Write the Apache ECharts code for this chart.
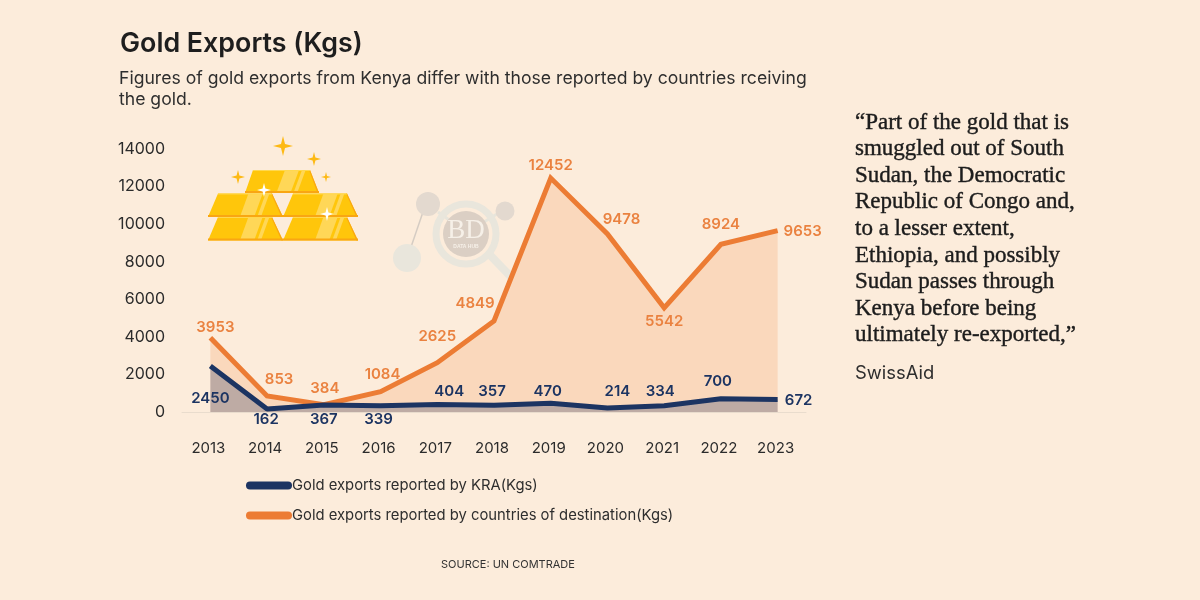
<!DOCTYPE html>
<html><head><meta charset="utf-8">
<style>html,body{margin:0;padding:0;background:#fcecdb}#c{width:1200px;height:600px}</style>
<script src="https://cdn.jsdelivr.net/npm/echarts@6/dist/echarts.min.js"></script>
</head><body><div id="c"></div>
<script>
const years = ['2013','2014','2015','2016','2017','2018','2019','2020','2021','2022','2023'];
const kraValues = [2450,162,367,339,404,357,470,214,334,700,672];
const destinationValues = [3953,853,384,1084,2625,4849,12452,9478,5542,8924,9653];
const kraName = 'Gold exports reported by KRA(Kgs)';
const destinationName = 'Gold exports reported by countries of destination(Kgs)';
const titleText = 'Gold Exports (Kgs)';
const subtitleLines = ['Figures of gold exports from Kenya differ with those reported by countries rceiving','the gold.'];
const quoteLines = ['“Part of the gold that is','smuggled out of South','Sudan, the Democratic','Republic of Congo and,','to a lesser extent,','Ethiopia, and possibly','Sudan passes through','Kenya before being','ultimately re-exported,”'];
const quoteSource = 'SwissAid';
const sourceText = 'SOURCE: UN COMTRADE';

const kraOffsets = [[0,33],[-1,11],[0,14.5],[-2,14],[12,-12.5],[-2,-13.5],[-3,-11.5],[10,-16.5],[-4,-14.5],[-3,-17.5],[21,1]];
const destOffsets = [[5,-10],[12,-16],[1,-16.5],[2,-17.5],[0,-26.5],[-19,-17.5],[0,-12.5],[14,-14.5],[0,13.5],[0,-19.5],[25,1]];

const NAVY='#1c3462', ORANGE='#ec7c34', ORANGE_TXT='#ea8240', INK='#2b2b2b';
const sans='Inter, "Noto Sans", sans-serif';
const PILL='path://M4 0H42A4 4 0 0 1 42 8H4A4 4 0 0 1 4 0Z';

function pts(data, offsets){
  return data.map((v,i)=>({value:v,label:{offset:offsets[i]}}));
}
function txt(x,y,text,font,fill,weight,size,extra){
  return {type:'text',x,y,z:5,style:Object.assign({text,font:`${weight} ${size}px ${font}`,fill,textAlign:'left',textVerticalAlign:'middle'},extra||{})};
}
function poly(points,fill,z){return {type:'polygon',z:z||1,shape:{points},style:{fill}};}
function bar(l,r,tl,tr,t,b){
  const w=r-l;
  const band=(a,c)=>poly([[l+w*a+5,t+.5],[l+w*c+5,t+.5],[l+w*c-3,b-1],[l+w*a-3,b-1]],'#ffd757',2);
  return [
    poly([[tl,t],[tr,t],[r,b],[l,b]],'#ffc60b',1),
    band(.47,.66), band(.7,.75),
    poly([[l,b-2],[r,b-2],[r,b],[l,b]],'#f9a613',3),
    poly([[tr-1,t],[tr,t],[r,b],[r-1.5,b]],'#f9a613',3),
    poly([[tl,t],[tr,t],[tr,t+1],[tl,t+1]],'#ffd84f',3)
  ];
}
function star(x,y,r,fill){
  const q=r*.2;
  return poly([[x,y-r],[x+q,y-q],[x+r,y],[x+q,y+q],[x,y+r],[x-q,y+q],[x-r,y],[x-q,y-q]],fill,4);
}
const gold=[
  ...bar(245,319,253,310,170,193),
  ...bar(208,283,218,272,193.5,217),
  ...bar(283,358,293,347,193.5,217),
  ...bar(208,283,218,272,217,240.5),
  ...bar(283,358,293,347,217,240.5),
  star(283,146,10,'#fdb913'),star(314,159,7,'#fdb913'),star(238,177,7,'#fdb913'),star(326,177,5,'#fdb913'),
  star(264,190,7,'#fff'),star(327,214,7,'#fff')
];
const logo=[
  {type:'line',z:0,shape:{x1:423,y1:212,x2:411,y2:247},style:{stroke:'#d5ccc3',lineWidth:1.5}},
  {type:'line',z:0,shape:{x1:438,y1:212,x2:452,y2:222},style:{stroke:'#e8e5db',lineWidth:3}},
  {type:'line',z:0,shape:{x1:484,y1:222,x2:497,y2:214},style:{stroke:'#e8e5db',lineWidth:3}},
  {type:'circle',z:0,shape:{cx:428,cy:204,r:12},style:{fill:'#e3d9cf'}},
  {type:'circle',z:0,shape:{cx:505,cy:211,r:9.5},style:{fill:'#e3d9cf'}},
  {type:'circle',z:0,shape:{cx:407,cy:258,r:14},style:{fill:'#e9e6dc'}},
  {type:'circle',z:0,shape:{cx:466,cy:234,r:30},style:{fill:'none',stroke:'#e9e6dc',lineWidth:7}},
  {type:'line',z:0,shape:{x1:490,y1:255,x2:512,y2:278},style:{stroke:'#e9e6dc',lineWidth:8}},
  {type:'circle',z:0,shape:{cx:466,cy:234,r:23},style:{fill:'#dbcfc4'}},
  {type:'text',x:466,y:231,z:0,style:{text:'BD',font:'400 27px "Liberation Serif"',fill:'#f6f0e8',textAlign:'center',textVerticalAlign:'middle'}},
  {type:'text',x:466,y:247,z:0,style:{text:'DATA HUB',font:'700 5px "Liberation Sans"',fill:'#f6f0e8',textAlign:'center',textVerticalAlign:'middle'}}
];
const texts=[
  txt(120,43.5,titleText,sans,'#1e1e1e',600,26.8),
  ...subtitleLines.map((s,i)=>txt(119,78.5+i*21,s,sans,'#2e2e2e',400,17.6)),
  ...quoteLines.map((s,i)=>txt(855,122.5+i*26.6,s,'"Liberation Serif"','#1c1c1c',400,23,{stroke:'#1c1c1c',lineWidth:.4})),
  txt(855,373,quoteSource,sans,'#2e2e2e',400,18.4),
  txt(441,565,sourceText,sans,'#333',400,11)
];

const labelStyle=c=>({show:true,position:'inside',color:c,fontFamily:sans,fontSize:15,fontWeight:600,formatter:'{c}'});
const chart=echarts.init(document.getElementById('c'),null,{renderer:'canvas'});
chart.setOption({
  animation:false,
  backgroundColor:'#fcecdb',
  textStyle:{fontFamily:sans},
  grid:{left:182,top:149,width:624,height:263,containLabel:false},
  xAxis:{type:'category',data:years,boundaryGap:true,
    axisLine:{lineStyle:{color:'#e9dccd',width:1}},axisTick:{show:false},
    axisLabel:{color:INK,fontFamily:sans,fontSize:15,margin:29,padding:[0,4,0,0]}},
  yAxis:{type:'value',min:0,max:14000,interval:2000,
    axisLine:{show:false},axisTick:{show:false},splitLine:{show:false},
    axisLabel:{color:INK,fontFamily:sans,fontSize:16,margin:17,formatter:v=>String(v)}},
  legend:{orient:'vertical',left:241,top:473,icon:PILL,itemWidth:46,itemHeight:8,itemGap:15,
    data:[kraName,destinationName],
    textStyle:{color:'#2e2e2e',fontFamily:sans,fontSize:14.8,padding:[0,0,0,-5]}},
  series:[
    {name:destinationName,type:'line',data:pts(destinationValues,destOffsets),smooth:false,
     symbol:'circle',symbolSize:0,showSymbol:true,lineStyle:{color:ORANGE,width:5,join:'miter'},itemStyle:{color:ORANGE},
     areaStyle:{color:'#fad8bc',opacity:1},label:labelStyle(ORANGE_TXT),z:3},
    {name:kraName,type:'line',data:pts(kraValues,kraOffsets),smooth:false,
     symbol:'circle',symbolSize:0,showSymbol:true,lineStyle:{color:NAVY,width:5},itemStyle:{color:NAVY},
     areaStyle:{color:'#1c3462',opacity:.27},label:labelStyle(NAVY),z:4}
  ],
  graphic:[...logo,...gold,...texts]
});
</script></body></html>
